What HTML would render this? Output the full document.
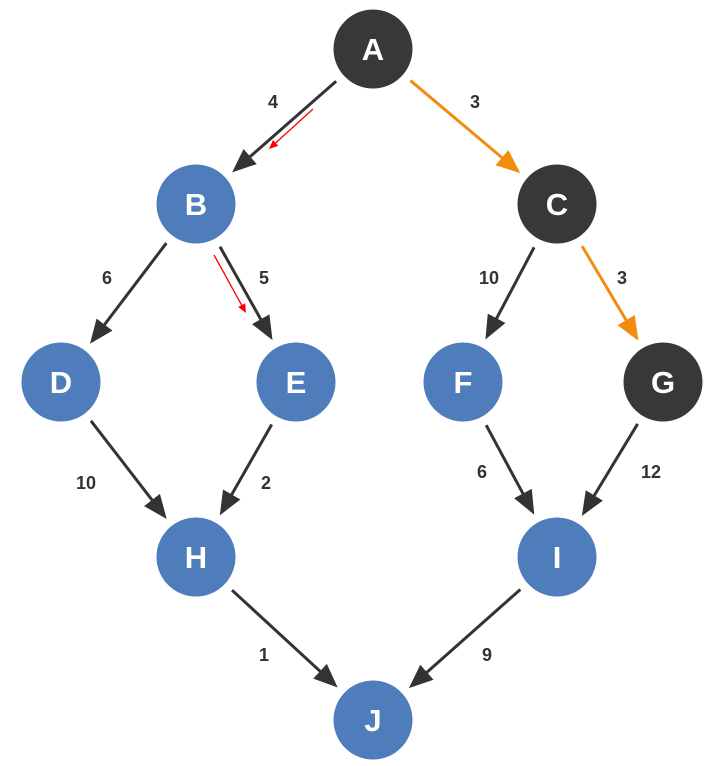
<!DOCTYPE html>
<html><head><meta charset="utf-8"><style>
html,body{margin:0;padding:0;background:#fff}
svg{display:block}
</style></head><body>
<svg id="s" width="720" height="766" xmlns="http://www.w3.org/2000/svg" font-family="Liberation Sans, sans-serif">
</svg>
<script>
const N={A:[373,49,'#383838'],B:[196,204,'#4f7cba'],C:[557,204,'#383838'],D:[61,382,'#4f7cba'],E:[296,382,'#4f7cba'],F:[463,382,'#4f7cba'],G:[663,382,'#383838'],H:[196,557,'#4f7cba'],I:[557,557,'#4f7cba'],J:[373,720,'#4f7cba']};
const E=[['A','B','#333'],['A','C','#f28c0f'],['B','D','#333'],['B','E','#333'],['C','F','#333'],['C','G','#f28c0f'],['D','H','#333'],['E','H','#333'],['F','I','#333'],['G','I','#333'],['H','J','#333'],['I','J','#333']];
const L=[['4',273,102],['3',475,102],['6',107,278],['5',264,278],['10',489,278],['3',622,278],['10',86,483],['2',266,483],['6',482,472],['12',651,472],['1',264,655],['9',487,655]];
let h='';
function arrow(x1,y1,x2,y2,col,w,al,aw){
 const dx=x2-x1,dy=y2-y1,d=Math.hypot(dx,dy),ux=dx/d,uy=dy/d;
 const bx=x2-ux*al,by=y2-uy*al;
 h+=`<line x1="${x1}" y1="${y1}" x2="${bx+ux*2}" y2="${by+uy*2}" stroke="${col}" stroke-width="${w}"/>`;
 h+=`<polygon points="${x2},${y2} ${bx-uy*aw},${by+ux*aw} ${bx+uy*aw},${by-ux*aw}" fill="${col}"/>`;
}
for(const [a,b,c] of E){
 const [x1,y1]=N[a],[x2,y2]=N[b];const dx=x2-x1,dy=y2-y1,d=Math.hypot(dx,dy),ux=dx/d,uy=dy/d;
 arrow(x1+ux*49,y1+uy*49,x2-ux*48,y2-uy*48,c,3,24,10);
}
arrow(313,109,269,149,'#f00',1.3,9,4);
arrow(214,255,246,313,'#f00',1.3,9,4);
for(const k in N){const [x,y,c]=N[k];
 h+=`<circle cx="${x}" cy="${y}" r="39.5" fill="${c}"/>`;
 h+=`<text x="${x}" y="${y+11}" text-anchor="middle" font-size="31" font-weight="bold" fill="#fff">${k}</text>`;}
for(const [t,x,y] of L){h+=`<text x="${x}" y="${y+6}" text-anchor="middle" font-size="18" font-weight="bold" fill="#333">${t}</text>`;}
document.getElementById('s').innerHTML=h;
</script>
</body></html>
